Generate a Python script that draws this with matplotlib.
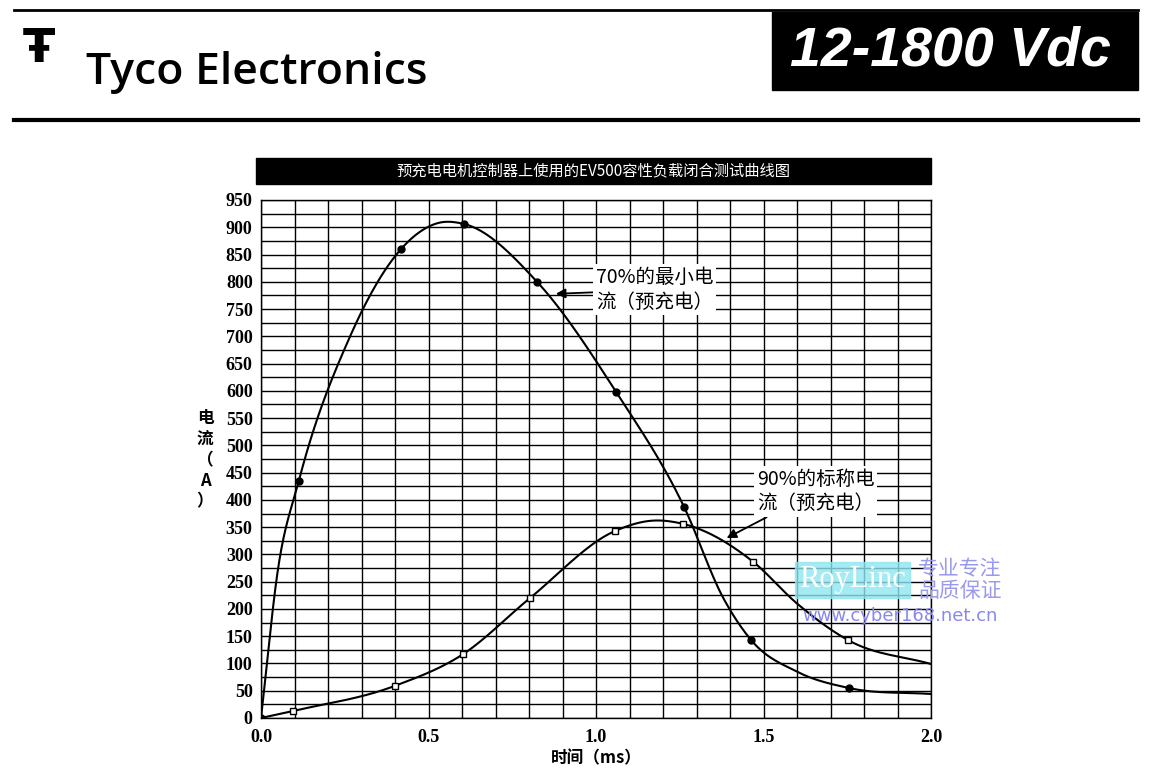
import numpy as np
import matplotlib
matplotlib.use("Agg")
import matplotlib.pyplot as plt
from matplotlib.patches import Rectangle

plt.rcParams['font.family'] = ['Noto Sans CJK SC', 'DejaVu Sans']

# curve 1: 70% min current (precharge)
c1_x = [0, 0.05, 0.113, 0.266, 0.418, 0.53, 0.606, 0.824, 1.06, 1.263, 1.38, 1.463, 1.6, 1.755, 2.0]
c1_y = [0, 270, 435, 700, 860, 908, 906, 800, 598, 387, 220, 143, 85, 55, 44]
m1_x = [0, 0.113, 0.418, 0.606, 0.824, 1.06, 1.263, 1.463, 1.755]
m1_y = [0, 435, 860, 906, 800, 598, 387, 143, 55]
# curve 2: 90% nominal current (precharge)
c2_x = [0, 0.096, 0.4, 0.603, 0.803, 1.057, 1.17, 1.26, 1.47, 1.6, 1.752, 2.0]
c2_y = [0, 13, 59, 117, 220, 343, 362, 356, 286, 210, 143, 99]
m2_x = [0.096, 0.4, 0.603, 0.803, 1.057, 1.26, 1.47, 1.752]
m2_y = [13, 59, 117, 220, 343, 356, 286, 143]

def smooth(xs, ys, n=40):
    x = np.array(xs, float); y = np.array(ys, float)
    m = np.zeros_like(y)
    m[0] = (y[1]-y[0])/(x[1]-x[0]); m[-1] = (y[-1]-y[-2])/(x[-1]-x[-2])
    for i in range(1, len(x)-1):
        d0 = (y[i]-y[i-1])/(x[i]-x[i-1]); d1 = (y[i+1]-y[i])/(x[i+1]-x[i])
        h0 = x[i]-x[i-1]; h1 = x[i+1]-x[i]
        m[i] = (d0*h1 + d1*h0)/(h0+h1)
    ox, oy = [], []
    for i in range(len(x)-1):
        h = x[i+1]-x[i]
        t = np.linspace(0, 1, n, endpoint=False)
        h00 = 2*t**3-3*t**2+1; h10 = t**3-2*t**2+t; h01 = -2*t**3+3*t**2; h11 = t**3-t**2
        ox.extend(x[i]+t*h)
        oy.extend(h00*y[i]+h10*h*m[i]+h01*y[i+1]+h11*h*m[i+1])
    ox.append(x[-1]); oy.append(y[-1])
    return np.array(ox), np.array(oy)

fig = plt.figure(figsize=(11.49, 7.77), dpi=100)
fig.patch.set_facecolor('white')

# header
fig.add_artist(plt.Line2D([0.012, 0.99], [1-10/777]*2, color='black', lw=2))
fig.add_artist(plt.Line2D([0.012, 0.99], [1-120/777]*2, color='black', lw=3))
fig.text(0.020, 1-50/777, "Ŧ", fontsize=34, fontweight='bold', va='center', family=['DejaVu Sans'])
fig.text(0.075, 1-73/777, "Tyco Electronics", fontsize=32, fontweight='semibold', va='center', family=['Open Sans'])
fig.add_artist(Rectangle((772/1149, 1-90/777), (1138-772)/1149, 78/777, color='black', transform=fig.transFigure))
fig.text(950/1149, 1-52/777, "12-1800 Vdc", color='white', fontsize=40, fontweight='bold',
         fontstyle='italic', ha='center', va='center', family=['Liberation Sans Narrow', 'Liberation Sans'])

# title bar
fig.add_artist(Rectangle((256/1149, 1-184/777), (931-256)/1149, 26/777, color='black', transform=fig.transFigure))
fig.text(593/1149, 1-171/777, "预充电电机控制器上使用的EV500容性负载闭合测试曲线图", color='white',
         fontsize=11, ha='center', va='center')

ax = fig.add_axes([261/1149, 1-718/777, 670/1149, 518/777])
ax.set_xlim(0, 2.0); ax.set_ylim(0, 950)
ax.set_xticks(np.arange(0, 2.01, 0.1), minor=True)
ax.set_xticks([0, 0.5, 1.0, 1.5, 2.0])
ax.set_yticks(np.arange(0, 951, 25), minor=True)
ax.set_yticks(np.arange(0, 951, 50))
ax.grid(True, which='both', color='black', lw=1.0)
ax.tick_params(which='both', length=0)
ax.tick_params(axis='y', pad=6)
ax.tick_params(axis='x', pad=8)
ax.set_axisbelow(True)
for s in ax.spines.values():
    s.set_linewidth(1.0)
tf = dict(family=['Liberation Serif'], fontsize=13, fontweight='bold')
ax.set_xticklabels(["0.0", "0.5", "1.0", "1.5", "2.0"], **tf)
ax.set_yticklabels([str(v) for v in range(0, 951, 50)], **tf)

sx, sy = smooth(c1_x, c1_y)
ax.plot(sx, sy, color='black', lw=1.5)
ax.plot(m1_x, m1_y, 'o', color='black', ms=5)
sx, sy = smooth(c2_x, c2_y)
ax.plot(sx, sy, color='black', lw=1.5)
ax.plot(m2_x, m2_y, 's', mfc='white', mec='black', ms=5, mew=1)

ax.set_xlabel("时间（ms）", fontsize=12, fontweight='bold', labelpad=2)
fig.text(205/1149, 1-460/777, "电\n流\n（\nA\n）", fontsize=12, fontweight='bold', ha='center', va='center', linespacing=1.2)

bb = dict(boxstyle='square,pad=0.15', fc='white', ec='none')
ax.annotate("70%的最小电\n流（预充电）", xy=(0.88, 778), xytext=(1.0, 785),
            fontsize=14, va='center', ha='left', bbox=bb,
            arrowprops=dict(arrowstyle='-|>', color='black', lw=1.3, shrinkA=0, shrinkB=0))
ax.annotate("90%的标称电\n流（预充电）", xy=(1.39, 330), xytext=(1.48, 415),
            fontsize=14, va='center', ha='left', bbox=bb,
            arrowprops=dict(arrowstyle='-|>', color='black', lw=1.3, shrinkA=0, shrinkB=0))

# watermark
fig.add_artist(Rectangle((795/1149, 1-598/777), (910-795)/1149, 36/777, color='#8fe6f0', alpha=0.8,
                         transform=fig.transFigure))
fig.text(852/1149, 1-580/777, "RoyLinc", color='white', fontsize=22, ha='center', va='center', family=['Liberation Serif'])
fig.text(960/1149, 1-580/777, "专业专注\n品质保证", color='#9999ee', fontsize=15, ha='center', va='center', linespacing=1.0)
fig.text(900/1149, 1-616/777, "www.cyber168.net.cn", color='#8888ee', fontsize=13, ha='center', va='center', family=['DejaVu Sans'])

fig.savefig("out.png", dpi=100)
